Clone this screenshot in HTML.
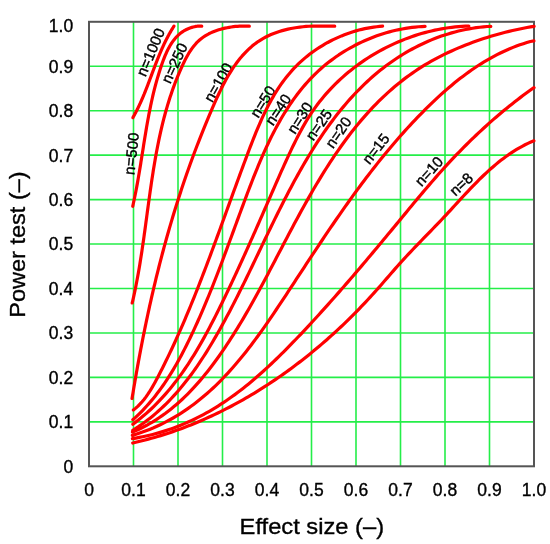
<!DOCTYPE html><html><head><meta charset="utf-8"><style>html,body{margin:0;padding:0;background:#fff;overflow:hidden}svg{display:block}</style></head><body><svg width="550" height="544" viewBox="0 0 550 544"><rect width="550" height="544" fill="#fff"/><g stroke="#24ee48" stroke-width="1.6"><line x1="133.50" y1="21.80" x2="133.50" y2="466.30"/><line x1="89.00" y1="421.85" x2="534.00" y2="421.85"/><line x1="178.00" y1="21.80" x2="178.00" y2="466.30"/><line x1="89.00" y1="377.40" x2="534.00" y2="377.40"/><line x1="222.50" y1="21.80" x2="222.50" y2="466.30"/><line x1="89.00" y1="332.95" x2="534.00" y2="332.95"/><line x1="267.00" y1="21.80" x2="267.00" y2="466.30"/><line x1="89.00" y1="288.50" x2="534.00" y2="288.50"/><line x1="311.50" y1="21.80" x2="311.50" y2="466.30"/><line x1="89.00" y1="244.05" x2="534.00" y2="244.05"/><line x1="356.00" y1="21.80" x2="356.00" y2="466.30"/><line x1="89.00" y1="199.60" x2="534.00" y2="199.60"/><line x1="400.50" y1="21.80" x2="400.50" y2="466.30"/><line x1="89.00" y1="155.15" x2="534.00" y2="155.15"/><line x1="445.00" y1="21.80" x2="445.00" y2="466.30"/><line x1="89.00" y1="110.70" x2="534.00" y2="110.70"/><line x1="489.50" y1="21.80" x2="489.50" y2="466.30"/><line x1="89.00" y1="66.25" x2="534.00" y2="66.25"/></g><rect x="89.00" y="21.80" width="445.00" height="444.50" fill="none" stroke="#555" stroke-width="2"/><g font-family="Liberation Sans, sans-serif" font-size="15.0" fill="#000" stroke="#000" stroke-width="0.4"><text transform="translate(150.4,52.1) rotate(-67.0)" text-anchor="middle" dominant-baseline="central">n=1000</text><text transform="translate(131.2,153.6) rotate(-83.5)" text-anchor="middle" dominant-baseline="central">n=500</text><text transform="translate(174.2,63.0) rotate(-65.0)" text-anchor="middle" dominant-baseline="central">n=250</text><text transform="translate(217.9,82.2) rotate(-60.0)" text-anchor="middle" dominant-baseline="central">n=100</text><text transform="translate(262.5,101.4) rotate(-58.0)" text-anchor="middle" dominant-baseline="central">n=50</text><text transform="translate(277.9,109.4) rotate(-56.0)" text-anchor="middle" dominant-baseline="central">n=40</text><text transform="translate(299.5,117.8) rotate(-57.0)" text-anchor="middle" dominant-baseline="central">n=30</text><text transform="translate(318.5,124.5) rotate(-55.0)" text-anchor="middle" dominant-baseline="central">n=25</text><text transform="translate(338.2,132.2) rotate(-55.0)" text-anchor="middle" dominant-baseline="central">n=20</text><text transform="translate(375.6,148.5) rotate(-52.0)" text-anchor="middle" dominant-baseline="central">n=15</text><text transform="translate(428.8,171.1) rotate(-48.0)" text-anchor="middle" dominant-baseline="central">n=10</text><text transform="translate(461.0,184.0) rotate(-43.0)" text-anchor="middle" dominant-baseline="central">n=8</text></g><g fill="none" stroke="#ff0000" stroke-width="3.2" stroke-linecap="round" stroke-linejoin="round"><path d="M132.86 117.68 L133.17 117.13 L133.48 116.58 L133.79 116.03 L134.10 115.47 L134.41 114.92 L134.71 114.36 L135.01 113.80 L135.31 113.25 L135.60 112.69 L135.89 112.13 L136.19 111.56 L136.47 111.00 L136.76 110.44 L137.05 109.87 L137.33 109.31 L137.61 108.74 L137.89 108.18 L138.16 107.61 L138.44 107.04 L138.71 106.47 L138.98 105.90 L139.25 105.33 L139.52 104.76 L139.78 104.19 L140.05 103.61 L140.31 103.04 L140.57 102.47 L140.83 101.89 L141.08 101.31 L141.34 100.74 L141.59 100.16 L141.85 99.58 L142.10 99.00 L142.35 98.42 L142.59 97.84 L142.84 97.26 L143.09 96.68 L143.33 96.10 L143.57 95.52 L143.81 94.94 L144.06 94.35 L144.29 93.77 L144.53 93.19 L144.77 92.60 L145.01 92.02 L145.24 91.43 L145.48 90.84 L145.71 90.26 L145.94 89.67 L146.17 89.08 L146.40 88.50 L146.63 87.91 L146.86 87.32 L147.09 86.73 L147.32 86.14 L147.55 85.55 L147.77 84.97 L148.00 84.38 L148.22 83.79 L148.45 83.20 L148.67 82.61 L148.90 82.02 L149.12 81.42 L149.34 80.83 L149.57 80.24 L149.79 79.65 L150.01 79.06 L150.23 78.47 L150.45 77.88 L150.68 77.29 L150.90 76.69 L151.12 76.10 L151.34 75.51 L151.56 74.92 L151.78 74.33 L152.00 73.74 L152.22 73.15 L152.45 72.55 L152.67 71.96 L152.89 71.37 L153.11 70.78 L153.33 70.19 L153.56 69.60 L153.78 69.01 L154.00 68.42 L154.23 67.82 L154.45 67.23 L154.68 66.64 L154.90 66.05 L155.13 65.46 L155.35 64.87 L155.58 64.28 L155.81 63.70 L156.03 63.11 L156.26 62.52 L156.49 61.93 L156.72 61.34 L156.95 60.75 L157.19 60.17 L157.42 59.58 L157.65 58.99 L157.89 58.41 L158.12 57.82 L158.36 57.24 L158.60 56.65 L158.84 56.07 L159.08 55.48 L159.32 54.90 L159.56 54.32 L159.80 53.74 L160.05 53.15 L160.30 52.57 L160.54 51.99 L160.79 51.41 L161.04 50.83 L161.29 50.25 L161.55 49.68 L161.80 49.10 L162.06 48.52 L162.32 47.94 L162.58 47.37 L162.84 46.79 L163.10 46.22 L163.37 45.65 L163.63 45.07 L163.90 44.50 L164.17 43.93 L164.44 43.36 L164.72 42.79 L164.99 42.22 L165.27 41.65 L165.55 41.09 L165.83 40.52 L166.11 39.96 L166.40 39.39 L166.69 38.83 L166.98 38.26 L167.27 37.70 L167.57 37.14 L167.86 36.58 L168.16 36.02 L168.46 35.47 L168.77 34.91 L169.07 34.35 L169.38 33.80 L169.69 33.25 L170.01 32.69 L170.32 32.14 L170.64 31.59 L170.97 31.04 L171.29 30.49 L171.62 29.95 L171.95 29.40 L172.28 28.86 L172.61 28.31 L172.95 27.77 L173.29 27.23 L173.64 26.69 L173.98 26.16"/><path d="M132.72 206.28 L133.01 205.02 L133.29 203.77 L133.56 202.52 L133.84 201.26 L134.10 200.01 L134.37 198.76 L134.63 197.50 L134.89 196.24 L135.14 194.99 L135.40 193.73 L135.65 192.47 L135.89 191.21 L136.14 189.95 L136.38 188.69 L136.61 187.43 L136.85 186.17 L137.08 184.91 L137.31 183.64 L137.54 182.38 L137.76 181.12 L137.99 179.85 L138.21 178.59 L138.43 177.33 L138.65 176.06 L138.86 174.80 L139.08 173.53 L139.29 172.26 L139.50 171.00 L139.71 169.73 L139.92 168.46 L140.13 167.20 L140.33 165.93 L140.54 164.66 L140.74 163.39 L140.94 162.12 L141.15 160.85 L141.35 159.59 L141.55 158.32 L141.75 157.05 L141.95 155.78 L142.15 154.51 L142.35 153.24 L142.55 151.97 L142.76 150.70 L142.96 149.43 L143.16 148.16 L143.36 146.89 L143.56 145.62 L143.76 144.35 L143.96 143.08 L144.17 141.81 L144.37 140.54 L144.58 139.27 L144.78 138.00 L144.99 136.73 L145.20 135.46 L145.41 134.19 L145.62 132.92 L145.83 131.65 L146.04 130.38 L146.26 129.11 L146.48 127.84 L146.69 126.57 L146.92 125.31 L147.14 124.04 L147.36 122.77 L147.59 121.50 L147.82 120.24 L148.05 118.97 L148.29 117.70 L148.52 116.43 L148.76 115.17 L149.00 113.90 L149.25 112.64 L149.50 111.37 L149.75 110.11 L150.00 108.84 L150.26 107.58 L150.52 106.32 L150.78 105.05 L151.05 103.79 L151.32 102.53 L151.60 101.27 L151.88 100.01 L152.16 98.75 L152.45 97.49 L152.74 96.23 L153.03 94.97 L153.33 93.71 L153.63 92.46 L153.94 91.20 L154.26 89.95 L154.57 88.69 L154.89 87.44 L155.22 86.18 L155.55 84.93 L155.89 83.68 L156.23 82.43 L156.58 81.18 L156.93 79.93 L157.29 78.68 L157.65 77.43 L158.02 76.18 L158.39 74.93 L158.77 73.69 L159.16 72.44 L159.55 71.20 L159.95 69.96 L160.35 68.72 L160.76 67.47 L161.18 66.23 L161.60 65.00 L162.03 63.76 L162.47 62.52 L162.92 61.29 L163.37 60.07 L163.84 58.85 L164.31 57.63 L164.80 56.42 L165.30 55.23 L165.81 54.04 L166.34 52.86 L166.87 51.70 L167.43 50.54 L168.00 49.40 L168.58 48.28 L169.19 47.17 L169.81 46.08 L170.45 45.00 L171.11 43.94 L171.78 42.91 L172.48 41.89 L173.20 40.89 L173.94 39.92 L174.71 38.97 L175.50 38.05 L176.31 37.15 L177.15 36.27 L178.01 35.43 L178.90 34.61 L179.82 33.82 L180.76 33.07 L181.73 32.34 L182.74 31.65 L183.77 30.99 L184.83 30.36 L185.92 29.77 L187.05 29.22 L188.21 28.70 L189.40 28.22 L190.63 27.78 L191.89 27.39 L193.19 27.03 L194.52 26.71 L195.89 26.44 L197.30 26.21 L198.75 26.16 L200.23 26.16 L201.76 26.16"/><path d="M132.20 302.99 L132.67 301.01 L133.12 299.03 L133.57 297.04 L134.00 295.05 L134.43 293.06 L134.86 291.06 L135.27 289.07 L135.68 287.06 L136.08 285.06 L136.47 283.06 L136.85 281.05 L137.23 279.04 L137.61 277.02 L137.97 275.01 L138.33 272.99 L138.69 270.97 L139.04 268.95 L139.38 266.93 L139.72 264.90 L140.05 262.88 L140.38 260.85 L140.70 258.82 L141.02 256.78 L141.34 254.75 L141.65 252.72 L141.96 250.68 L142.26 248.64 L142.56 246.60 L142.86 244.56 L143.16 242.52 L143.45 240.48 L143.74 238.43 L144.03 236.39 L144.31 234.34 L144.60 232.30 L144.88 230.25 L145.16 228.20 L145.44 226.15 L145.72 224.10 L145.99 222.05 L146.27 220.00 L146.55 217.95 L146.82 215.90 L147.10 213.85 L147.37 211.80 L147.65 209.75 L147.93 207.70 L148.21 205.65 L148.49 203.60 L148.77 201.55 L149.05 199.50 L149.33 197.45 L149.62 195.40 L149.91 193.35 L150.20 191.30 L150.49 189.25 L150.78 187.20 L151.08 185.16 L151.38 183.11 L151.69 181.06 L151.99 179.02 L152.31 176.98 L152.62 174.93 L152.94 172.89 L153.26 170.85 L153.59 168.81 L153.93 166.78 L154.27 164.74 L154.61 162.71 L154.96 160.67 L155.31 158.64 L155.67 156.61 L156.04 154.59 L156.41 152.56 L156.79 150.54 L157.18 148.51 L157.57 146.49 L157.97 144.48 L158.37 142.46 L158.79 140.45 L159.21 138.43 L159.64 136.42 L160.08 134.42 L160.52 132.41 L160.98 130.41 L161.44 128.41 L161.91 126.42 L162.39 124.42 L162.88 122.43 L163.38 120.44 L163.89 118.46 L164.41 116.48 L164.94 114.50 L165.48 112.52 L166.04 110.55 L166.60 108.58 L167.17 106.61 L167.75 104.65 L168.35 102.69 L168.96 100.74 L169.57 98.79 L170.20 96.84 L170.85 94.89 L171.50 92.95 L172.17 91.02 L172.85 89.08 L173.54 87.15 L174.25 85.23 L174.97 83.31 L175.71 81.39 L176.45 79.48 L177.22 77.57 L177.99 75.67 L178.78 73.77 L179.59 71.88 L180.41 69.99 L181.25 68.10 L182.10 66.22 L182.96 64.35 L183.85 62.49 L184.76 60.63 L185.70 58.80 L186.67 56.99 L187.66 55.20 L188.70 53.44 L189.78 51.71 L190.89 50.02 L192.06 48.36 L193.27 46.75 L194.54 45.19 L195.86 43.68 L197.24 42.22 L198.69 40.82 L200.20 39.48 L201.78 38.21 L203.44 37.00 L205.16 35.87 L206.95 34.80 L208.80 33.81 L210.70 32.88 L212.65 32.01 L214.63 31.21 L216.66 30.48 L218.71 29.80 L220.78 29.19 L222.87 28.63 L224.97 28.14 L227.09 27.70 L229.20 27.31 L231.31 26.98 L233.42 26.69 L235.51 26.46 L237.58 26.28 L239.63 26.16 L241.65 26.16 L243.64 26.16 L245.58 26.16 L247.49 26.16 L249.34 26.16"/><path d="M132.05 398.49 L132.53 395.57 L133.02 392.65 L133.50 389.74 L134.00 386.82 L134.49 383.92 L134.99 381.01 L135.49 378.11 L136.00 375.21 L136.51 372.31 L137.03 369.42 L137.55 366.53 L138.07 363.64 L138.60 360.76 L139.13 357.87 L139.67 355.00 L140.21 352.12 L140.76 349.25 L141.31 346.38 L141.87 343.51 L142.43 340.64 L142.99 337.78 L143.56 334.92 L144.14 332.06 L144.72 329.21 L145.30 326.36 L145.90 323.51 L146.49 320.66 L147.09 317.82 L147.70 314.97 L148.31 312.13 L148.93 309.30 L149.55 306.46 L150.18 303.63 L150.82 300.80 L151.46 297.97 L152.10 295.14 L152.75 292.32 L153.41 289.50 L154.08 286.68 L154.75 283.86 L155.42 281.05 L156.10 278.23 L156.79 275.42 L157.49 272.61 L158.19 269.80 L158.90 267.00 L159.61 264.20 L160.33 261.39 L161.06 258.60 L161.79 255.80 L162.53 253.00 L163.28 250.21 L164.03 247.41 L164.79 244.62 L165.56 241.83 L166.34 239.05 L167.12 236.26 L167.91 233.48 L168.70 230.69 L169.51 227.91 L170.32 225.13 L171.14 222.36 L171.96 219.58 L172.80 216.80 L173.64 214.03 L174.49 211.26 L175.34 208.49 L176.21 205.72 L177.08 202.95 L177.96 200.18 L178.85 197.41 L179.74 194.65 L180.65 191.88 L181.56 189.12 L182.48 186.36 L183.41 183.60 L184.34 180.84 L185.29 178.08 L186.24 175.32 L187.20 172.57 L188.18 169.81 L189.16 167.06 L190.14 164.30 L191.14 161.55 L192.15 158.80 L193.16 156.05 L194.18 153.29 L195.22 150.54 L196.26 147.80 L197.31 145.05 L198.37 142.30 L199.44 139.55 L200.52 136.80 L201.61 134.06 L202.70 131.31 L203.81 128.57 L204.93 125.82 L206.05 123.08 L207.19 120.33 L208.34 117.59 L209.49 114.85 L210.66 112.10 L211.83 109.36 L213.02 106.62 L214.22 103.88 L215.43 101.15 L216.66 98.43 L217.91 95.72 L219.18 93.02 L220.47 90.34 L221.78 87.68 L223.12 85.05 L224.49 82.44 L225.89 79.85 L227.32 77.30 L228.79 74.78 L230.29 72.30 L231.83 69.86 L233.41 67.46 L235.04 65.10 L236.71 62.79 L238.42 60.53 L240.18 58.33 L241.99 56.18 L243.86 54.09 L245.78 52.06 L247.75 50.09 L249.79 48.19 L251.88 46.36 L254.04 44.60 L256.26 42.91 L258.54 41.30 L260.90 39.78 L263.32 38.33 L265.82 36.97 L268.39 35.70 L271.03 34.52 L273.73 33.42 L276.50 32.41 L279.31 31.47 L282.17 30.62 L285.07 29.85 L288.01 29.15 L290.97 28.53 L293.95 27.98 L296.95 27.50 L299.96 27.09 L302.97 26.74 L305.98 26.46 L308.98 26.24 L311.97 26.16 L314.93 26.16 L317.87 26.16 L320.78 26.16 L323.65 26.16 L326.49 26.16 L329.28 26.16 L332.03 26.16 L334.72 26.16"/><path d="M133.40 410.06 L135.77 408.12 L138.01 406.08 L140.12 403.95 L142.13 401.74 L144.03 399.46 L145.83 397.10 L147.55 394.69 L149.20 392.23 L150.78 389.71 L152.30 387.16 L153.78 384.57 L155.22 381.95 L156.64 379.32 L158.03 376.66 L159.41 374.00 L160.78 371.33 L162.14 368.66 L163.49 365.97 L164.83 363.28 L166.16 360.58 L167.48 357.87 L168.79 355.15 L170.09 352.43 L171.38 349.70 L172.66 346.96 L173.93 344.22 L175.20 341.47 L176.45 338.71 L177.69 335.95 L178.93 333.18 L180.16 330.41 L181.38 327.64 L182.59 324.85 L183.79 322.07 L184.98 319.28 L186.17 316.48 L187.35 313.68 L188.52 310.88 L189.69 308.07 L190.85 305.26 L192.00 302.45 L193.14 299.63 L194.28 296.82 L195.41 293.99 L196.54 291.17 L197.66 288.35 L198.77 285.52 L199.88 282.69 L200.98 279.86 L202.08 277.03 L203.17 274.20 L204.25 271.37 L205.34 268.54 L206.41 265.70 L207.48 262.87 L208.55 260.04 L209.62 257.21 L210.68 254.37 L211.73 251.54 L212.78 248.72 L213.83 245.89 L214.88 243.06 L215.92 240.24 L216.96 237.41 L217.99 234.59 L219.03 231.77 L220.06 228.95 L221.09 226.13 L222.12 223.32 L223.14 220.50 L224.17 217.68 L225.19 214.87 L226.22 212.05 L227.24 209.23 L228.27 206.42 L229.29 203.60 L230.31 200.78 L231.34 197.96 L232.37 195.15 L233.39 192.33 L234.42 189.50 L235.45 186.68 L236.49 183.86 L237.52 181.03 L238.56 178.21 L239.60 175.38 L240.65 172.54 L241.69 169.71 L242.75 166.87 L243.80 164.03 L244.86 161.19 L245.93 158.35 L247.00 155.50 L248.07 152.65 L249.15 149.80 L250.24 146.94 L251.34 144.09 L252.45 141.24 L253.57 138.39 L254.70 135.55 L255.86 132.72 L257.02 129.89 L258.21 127.08 L259.42 124.27 L260.65 121.48 L261.90 118.70 L263.17 115.93 L264.48 113.18 L265.81 110.45 L267.17 107.74 L268.56 105.06 L269.98 102.39 L271.44 99.75 L272.93 97.13 L274.45 94.54 L276.02 91.97 L277.63 89.44 L279.27 86.94 L280.96 84.47 L282.70 82.03 L284.48 79.63 L286.31 77.27 L288.18 74.94 L290.11 72.66 L292.09 70.41 L294.12 68.21 L296.21 66.05 L298.35 63.94 L300.55 61.87 L302.80 59.86 L305.10 57.88 L307.45 55.96 L309.84 54.09 L312.29 52.27 L314.77 50.50 L317.29 48.79 L319.86 47.12 L322.46 45.52 L325.10 43.97 L327.77 42.47 L330.48 41.04 L333.21 39.66 L335.98 38.34 L338.77 37.09 L341.58 35.89 L344.42 34.76 L347.28 33.69 L350.16 32.69 L353.06 31.75 L355.97 30.88 L358.90 30.07 L361.84 29.34 L364.78 28.67 L367.74 28.08 L370.71 27.55 L373.67 27.10 L376.64 26.72 L379.62 26.42 L382.59 26.19"/><path d="M132.84 419.77 L135.27 417.58 L137.66 415.35 L139.99 413.09 L142.28 410.78 L144.53 408.43 L146.73 406.04 L148.88 403.62 L151.00 401.16 L153.07 398.67 L155.10 396.14 L157.09 393.59 L159.04 391.00 L160.96 388.38 L162.83 385.74 L164.68 383.07 L166.49 380.37 L168.26 377.65 L170.00 374.90 L171.72 372.14 L173.40 369.35 L175.05 366.55 L176.67 363.72 L178.27 360.88 L179.84 358.03 L181.39 355.16 L182.91 352.27 L184.41 349.38 L185.89 346.47 L187.35 343.55 L188.78 340.63 L190.20 337.70 L191.60 334.76 L192.99 331.82 L194.36 328.88 L195.71 325.93 L197.05 322.98 L198.37 320.02 L199.69 317.06 L200.98 314.10 L202.27 311.13 L203.54 308.16 L204.80 305.19 L206.05 302.21 L207.29 299.23 L208.52 296.25 L209.73 293.26 L210.94 290.27 L212.14 287.28 L213.33 284.28 L214.51 281.28 L215.69 278.28 L216.86 275.27 L218.02 272.26 L219.17 269.25 L220.32 266.24 L221.47 263.22 L222.61 260.20 L223.75 257.17 L224.88 254.15 L226.01 251.12 L227.13 248.08 L228.26 245.05 L229.38 242.01 L230.50 238.97 L231.62 235.93 L232.74 232.88 L233.86 229.83 L234.98 226.78 L236.11 223.73 L237.23 220.67 L238.36 217.61 L239.48 214.55 L240.62 211.49 L241.75 208.42 L242.89 205.36 L244.03 202.29 L245.18 199.21 L246.34 196.14 L247.50 193.06 L248.66 189.99 L249.84 186.91 L251.03 183.84 L252.22 180.77 L253.43 177.70 L254.64 174.64 L255.87 171.58 L257.12 168.53 L258.38 165.48 L259.65 162.45 L260.94 159.42 L262.25 156.40 L263.57 153.40 L264.92 150.41 L266.28 147.43 L267.67 144.46 L269.07 141.51 L270.50 138.57 L271.95 135.66 L273.43 132.75 L274.93 129.87 L276.46 127.01 L278.01 124.17 L279.59 121.35 L281.20 118.55 L282.84 115.77 L284.51 113.02 L286.22 110.30 L287.95 107.60 L289.72 104.93 L291.52 102.29 L293.36 99.67 L295.23 97.09 L297.14 94.54 L299.09 92.01 L301.07 89.53 L303.10 87.07 L305.16 84.65 L307.27 82.27 L309.42 79.92 L311.61 77.61 L313.85 75.34 L316.13 73.11 L318.45 70.92 L320.83 68.77 L323.25 66.66 L325.71 64.60 L328.23 62.58 L330.79 60.61 L333.39 58.68 L336.04 56.80 L338.73 54.96 L341.46 53.18 L344.23 51.44 L347.03 49.75 L349.87 48.12 L352.75 46.54 L355.65 45.00 L358.59 43.53 L361.56 42.10 L364.56 40.74 L367.58 39.43 L370.63 38.17 L373.71 36.97 L376.80 35.84 L379.92 34.76 L383.06 33.74 L386.22 32.78 L389.40 31.89 L392.59 31.06 L395.80 30.29 L399.01 29.59 L402.25 28.95 L405.49 28.38 L408.74 27.87 L411.99 27.44 L415.26 27.07 L418.53 26.77 L421.80 26.55 L425.07 26.39"/><path d="M132.85 424.20 L135.65 422.11 L138.39 419.99 L141.09 417.82 L143.75 415.60 L146.35 413.35 L148.91 411.05 L151.43 408.71 L153.90 406.33 L156.34 403.92 L158.73 401.46 L161.07 398.97 L163.38 396.45 L165.66 393.89 L167.89 391.30 L170.08 388.67 L172.25 386.02 L174.37 383.33 L176.46 380.62 L178.52 377.87 L180.55 375.10 L182.54 372.31 L184.50 369.49 L186.44 366.64 L188.34 363.77 L190.22 360.88 L192.07 357.97 L193.90 355.04 L195.70 352.09 L197.47 349.12 L199.23 346.14 L200.96 343.14 L202.67 340.12 L204.36 337.10 L206.03 334.05 L207.68 331.00 L209.31 327.94 L210.93 324.86 L212.53 321.78 L214.12 318.69 L215.69 315.60 L217.25 312.50 L218.80 309.39 L220.34 306.28 L221.87 303.17 L223.38 300.06 L224.89 296.94 L226.39 293.83 L227.88 290.71 L229.37 287.60 L230.85 284.48 L232.32 281.36 L233.78 278.24 L235.24 275.12 L236.69 272.00 L238.13 268.88 L239.57 265.76 L241.00 262.63 L242.43 259.50 L243.85 256.38 L245.27 253.25 L246.68 250.11 L248.09 246.98 L249.49 243.85 L250.89 240.71 L252.29 237.57 L253.68 234.43 L255.08 231.29 L256.47 228.15 L257.85 225.00 L259.24 221.85 L260.62 218.70 L262.00 215.55 L263.38 212.39 L264.76 209.24 L266.14 206.08 L267.52 202.91 L268.89 199.75 L270.27 196.58 L271.65 193.41 L273.03 190.24 L274.42 187.07 L275.80 183.90 L277.20 180.73 L278.59 177.56 L279.99 174.39 L281.40 171.22 L282.82 168.06 L284.24 164.90 L285.68 161.74 L287.12 158.59 L288.58 155.45 L290.04 152.30 L291.52 149.17 L293.02 146.05 L294.54 142.93 L296.08 139.84 L297.64 136.75 L299.24 133.69 L300.86 130.65 L302.52 127.63 L304.22 124.63 L305.96 121.67 L307.74 118.73 L309.57 115.82 L311.45 112.95 L313.38 110.11 L315.36 107.31 L317.40 104.55 L319.48 101.83 L321.62 99.14 L323.81 96.50 L326.05 93.89 L328.34 91.33 L330.67 88.81 L333.06 86.32 L335.48 83.88 L337.96 81.48 L340.47 79.13 L343.03 76.82 L345.64 74.55 L348.28 72.32 L350.96 70.14 L353.69 68.00 L356.45 65.91 L359.25 63.87 L362.09 61.87 L364.96 59.92 L367.87 58.02 L370.81 56.16 L373.78 54.36 L376.78 52.60 L379.82 50.89 L382.88 49.24 L385.97 47.64 L389.08 46.08 L392.23 44.58 L395.39 43.14 L398.58 41.75 L401.79 40.41 L405.02 39.13 L408.28 37.90 L411.55 36.73 L414.83 35.62 L418.14 34.56 L421.46 33.56 L424.79 32.62 L428.13 31.75 L431.49 30.93 L434.86 30.17 L438.24 29.47 L441.62 28.83 L445.01 28.26 L448.41 27.75 L451.82 27.31 L455.22 26.92 L458.63 26.61 L462.05 26.36 L465.46 26.17 L468.87 26.16"/><path d="M132.79 430.28 L135.85 428.34 L138.85 426.36 L141.80 424.31 L144.69 422.22 L147.54 420.08 L150.34 417.89 L153.08 415.65 L155.78 413.36 L158.44 411.03 L161.05 408.66 L163.61 406.24 L166.13 403.79 L168.61 401.29 L171.04 398.76 L173.44 396.19 L175.79 393.58 L178.11 390.94 L180.39 388.26 L182.63 385.56 L184.84 382.82 L187.01 380.05 L189.15 377.26 L191.26 374.43 L193.34 371.58 L195.38 368.71 L197.39 365.82 L199.38 362.90 L201.34 359.96 L203.27 357.00 L205.18 354.03 L207.06 351.04 L208.92 348.03 L210.75 345.01 L212.57 341.97 L214.36 338.93 L216.13 335.87 L217.89 332.81 L219.63 329.73 L221.35 326.65 L223.05 323.56 L224.74 320.46 L226.41 317.36 L228.07 314.25 L229.72 311.14 L231.35 308.01 L232.97 304.88 L234.58 301.75 L236.18 298.61 L237.77 295.47 L239.35 292.32 L240.92 289.16 L242.49 286.01 L244.05 282.84 L245.60 279.68 L247.14 276.51 L248.68 273.34 L250.22 270.16 L251.75 266.98 L253.28 263.80 L254.80 260.62 L256.33 257.43 L257.86 254.25 L259.38 251.06 L260.91 247.87 L262.43 244.68 L263.96 241.49 L265.49 238.30 L267.03 235.10 L268.57 231.91 L270.11 228.72 L271.66 225.53 L273.22 222.34 L274.78 219.16 L276.35 215.97 L277.93 212.79 L279.52 209.60 L281.12 206.42 L282.73 203.25 L284.35 200.07 L285.98 196.90 L287.63 193.73 L289.28 190.57 L290.96 187.41 L292.64 184.26 L294.34 181.11 L296.06 177.97 L297.79 174.85 L299.53 171.73 L301.30 168.62 L303.08 165.52 L304.88 162.43 L306.69 159.36 L308.53 156.30 L310.38 153.26 L312.26 150.22 L314.15 147.21 L316.07 144.21 L318.00 141.23 L319.96 138.27 L321.94 135.33 L323.94 132.40 L325.97 129.50 L328.02 126.62 L330.09 123.76 L332.19 120.93 L334.32 118.12 L336.47 115.33 L338.65 112.57 L340.85 109.83 L343.08 107.13 L345.34 104.45 L347.63 101.80 L349.95 99.18 L352.29 96.59 L354.67 94.03 L357.08 91.50 L359.51 89.01 L361.98 86.55 L364.48 84.12 L367.02 81.73 L369.59 79.38 L372.19 77.06 L374.82 74.78 L377.49 72.54 L380.20 70.34 L382.94 68.18 L385.71 66.06 L388.52 63.98 L391.37 61.95 L394.26 59.96 L397.18 58.01 L400.13 56.11 L403.12 54.26 L406.14 52.45 L409.19 50.70 L412.27 48.99 L415.39 47.34 L418.54 45.74 L421.72 44.20 L424.92 42.71 L428.16 41.27 L431.42 39.89 L434.72 38.57 L438.04 37.31 L441.39 36.11 L444.76 34.98 L448.16 33.90 L451.59 32.89 L455.04 31.94 L458.51 31.06 L462.01 30.25 L465.53 29.50 L469.07 28.82 L472.64 28.22 L476.22 27.68 L479.83 27.22 L483.46 26.83 L487.11 26.51 L490.77 26.38"/><path d="M132.50 432.08 L136.03 430.56 L139.49 428.97 L142.90 427.29 L146.25 425.53 L149.54 423.70 L152.78 421.80 L155.96 419.83 L159.08 417.78 L162.16 415.67 L165.18 413.50 L168.15 411.26 L171.08 408.96 L173.95 406.61 L176.78 404.20 L179.56 401.73 L182.29 399.21 L184.98 396.65 L187.63 394.03 L190.23 391.37 L192.80 388.67 L195.32 385.93 L197.80 383.14 L200.25 380.33 L202.66 377.47 L205.03 374.59 L207.37 371.67 L209.67 368.73 L211.95 365.76 L214.19 362.77 L216.39 359.76 L218.57 356.73 L220.72 353.68 L222.85 350.62 L224.94 347.54 L227.01 344.45 L229.06 341.35 L231.08 338.23 L233.08 335.11 L235.05 331.97 L237.01 328.82 L238.94 325.66 L240.86 322.49 L242.76 319.31 L244.64 316.12 L246.51 312.92 L248.36 309.71 L250.19 306.49 L252.01 303.26 L253.82 300.02 L255.62 296.78 L257.41 293.53 L259.19 290.27 L260.95 287.01 L262.72 283.73 L264.47 280.46 L266.22 277.17 L267.96 273.88 L269.70 270.59 L271.44 267.29 L273.17 263.98 L274.91 260.67 L276.64 257.36 L278.37 254.04 L280.11 250.72 L281.85 247.40 L283.59 244.07 L285.34 240.74 L287.09 237.41 L288.85 234.08 L290.61 230.75 L292.38 227.42 L294.16 224.09 L295.95 220.77 L297.74 217.44 L299.55 214.12 L301.36 210.81 L303.19 207.50 L305.02 204.20 L306.87 200.90 L308.73 197.62 L310.61 194.34 L312.50 191.07 L314.40 187.81 L316.32 184.56 L318.25 181.33 L320.20 178.11 L322.17 174.90 L324.15 171.70 L326.15 168.52 L328.17 165.36 L330.21 162.21 L332.27 159.09 L334.35 155.98 L336.45 152.89 L338.58 149.81 L340.72 146.76 L342.89 143.74 L345.08 140.73 L347.30 137.75 L349.54 134.79 L351.81 131.85 L354.10 128.95 L356.42 126.06 L358.76 123.21 L361.14 120.38 L363.54 117.59 L365.97 114.82 L368.43 112.08 L370.92 109.37 L373.45 106.70 L376.00 104.06 L378.59 101.45 L381.21 98.88 L383.86 96.34 L386.55 93.84 L389.27 91.37 L392.02 88.95 L394.82 86.56 L397.64 84.21 L400.51 81.90 L403.41 79.63 L406.36 77.40 L409.34 75.22 L412.36 73.08 L415.42 70.98 L418.52 68.93 L421.66 66.92 L424.84 64.96 L428.07 63.05 L431.33 61.18 L434.63 59.36 L437.96 57.59 L441.33 55.86 L444.73 54.17 L448.15 52.53 L451.61 50.94 L455.09 49.39 L458.59 47.89 L462.11 46.43 L465.65 45.01 L469.21 43.64 L472.78 42.31 L476.37 41.03 L479.97 39.79 L483.58 38.59 L487.20 37.44 L490.82 36.33 L494.45 35.26 L498.08 34.24 L501.71 33.26 L505.33 32.32 L508.96 31.42 L512.58 30.56 L516.19 29.75 L519.79 28.98 L523.38 28.24 L526.96 27.55 L530.52 26.91 L534.07 26.30"/><path d="M132.36 435.36 L136.02 434.25 L139.64 433.07 L143.20 431.83 L146.71 430.53 L150.18 429.16 L153.59 427.74 L156.95 426.25 L160.27 424.71 L163.54 423.11 L166.77 421.45 L169.95 419.74 L173.09 417.98 L176.18 416.16 L179.23 414.29 L182.24 412.37 L185.21 410.40 L188.14 408.38 L191.03 406.32 L193.88 404.20 L196.69 402.05 L199.47 399.85 L202.21 397.61 L204.92 395.32 L207.59 393.00 L210.23 390.63 L212.84 388.23 L215.42 385.79 L217.96 383.31 L220.48 380.80 L222.97 378.25 L225.42 375.67 L227.86 373.06 L230.26 370.42 L232.64 367.75 L235.00 365.05 L237.33 362.32 L239.64 359.56 L241.92 356.79 L244.19 353.98 L246.43 351.15 L248.66 348.31 L250.87 345.44 L253.05 342.55 L255.22 339.64 L257.38 336.71 L259.52 333.77 L261.64 330.81 L263.75 327.84 L265.85 324.85 L267.94 321.86 L270.01 318.85 L272.08 315.83 L274.13 312.80 L276.18 309.77 L278.22 306.72 L280.25 303.68 L282.27 300.62 L284.29 297.57 L286.31 294.51 L288.32 291.45 L290.33 288.39 L292.33 285.33 L294.34 282.28 L296.34 279.22 L298.35 276.17 L300.35 273.12 L302.35 270.07 L304.35 267.02 L306.35 263.97 L308.36 260.93 L310.36 257.89 L312.37 254.86 L314.38 251.83 L316.39 248.80 L318.40 245.77 L320.42 242.75 L322.44 239.74 L324.46 236.73 L326.49 233.72 L328.52 230.72 L330.56 227.72 L332.60 224.73 L334.64 221.75 L336.70 218.77 L338.75 215.80 L340.82 212.83 L342.89 209.87 L344.97 206.92 L347.06 203.97 L349.15 201.04 L351.26 198.11 L353.37 195.18 L355.49 192.27 L357.62 189.36 L359.76 186.47 L361.91 183.58 L364.07 180.70 L366.24 177.83 L368.42 174.96 L370.62 172.11 L372.82 169.27 L375.04 166.44 L377.27 163.62 L379.51 160.81 L381.77 158.01 L384.04 155.22 L386.32 152.44 L388.62 149.67 L390.94 146.92 L393.26 144.18 L395.61 141.45 L397.97 138.73 L400.34 136.02 L402.73 133.33 L405.14 130.65 L407.56 127.98 L410.01 125.33 L412.47 122.69 L414.95 120.06 L417.44 117.45 L419.96 114.86 L422.50 112.27 L425.05 109.71 L427.63 107.15 L430.22 104.62 L432.84 102.10 L435.47 99.61 L438.13 97.14 L440.82 94.69 L443.52 92.26 L446.25 89.87 L449.00 87.50 L451.78 85.16 L454.58 82.86 L457.40 80.59 L460.25 78.35 L463.13 76.15 L466.03 73.99 L468.96 71.87 L471.92 69.80 L474.91 67.76 L477.92 65.78 L480.96 63.84 L484.03 61.94 L487.14 60.10 L490.27 58.31 L493.43 56.58 L496.62 54.90 L499.85 53.27 L503.11 51.71 L506.39 50.20 L509.72 48.76 L513.07 47.38 L516.46 46.07 L519.89 44.82 L523.35 43.65 L526.84 42.54 L530.37 41.50 L533.93 40.91"/><path d="M132.43 438.63 L135.86 438.06 L139.27 437.44 L142.66 436.76 L146.04 436.04 L149.39 435.26 L152.73 434.43 L156.05 433.55 L159.35 432.61 L162.63 431.63 L165.89 430.60 L169.14 429.52 L172.36 428.39 L175.56 427.21 L178.74 425.99 L181.90 424.72 L185.03 423.40 L188.15 422.04 L191.24 420.63 L194.31 419.18 L197.36 417.68 L200.38 416.15 L203.39 414.57 L206.36 412.94 L209.32 411.28 L212.24 409.57 L215.15 407.83 L218.03 406.04 L220.89 404.22 L223.72 402.36 L226.53 400.47 L229.32 398.54 L232.09 396.57 L234.84 394.58 L237.57 392.55 L240.28 390.49 L242.96 388.40 L245.63 386.29 L248.28 384.14 L250.92 381.97 L253.53 379.77 L256.13 377.55 L258.71 375.31 L261.27 373.04 L263.82 370.75 L266.35 368.44 L268.87 366.11 L271.37 363.77 L273.86 361.40 L276.33 359.02 L278.80 356.62 L281.24 354.21 L283.68 351.79 L286.11 349.35 L288.52 346.91 L290.92 344.45 L293.31 341.98 L295.70 339.51 L298.07 337.02 L300.43 334.54 L302.79 332.04 L305.13 329.55 L307.47 327.04 L309.80 324.54 L312.13 322.03 L314.44 319.51 L316.75 316.99 L319.05 314.47 L321.34 311.94 L323.63 309.41 L325.91 306.88 L328.18 304.34 L330.45 301.80 L332.71 299.25 L334.97 296.70 L337.22 294.15 L339.46 291.59 L341.70 289.03 L343.94 286.47 L346.17 283.90 L348.39 281.33 L350.61 278.76 L352.83 276.18 L355.04 273.60 L357.24 271.02 L359.45 268.44 L361.65 265.85 L363.84 263.26 L366.04 260.66 L368.23 258.07 L370.42 255.47 L372.60 252.87 L374.78 250.27 L376.96 247.66 L379.14 245.05 L381.32 242.44 L383.49 239.83 L385.66 237.22 L387.83 234.60 L390.00 231.98 L392.17 229.36 L394.34 226.74 L396.51 224.12 L398.68 221.49 L400.84 218.87 L403.01 216.24 L405.18 213.61 L407.35 210.98 L409.52 208.35 L411.69 205.73 L413.87 203.10 L416.05 200.48 L418.24 197.86 L420.43 195.25 L422.63 192.64 L424.83 190.03 L427.04 187.44 L429.26 184.84 L431.49 182.26 L433.73 179.68 L435.98 177.11 L438.23 174.55 L440.50 172.01 L442.78 169.47 L445.08 166.94 L447.38 164.42 L449.70 161.92 L452.03 159.43 L454.38 156.95 L456.74 154.48 L459.11 152.03 L461.50 149.59 L463.89 147.16 L466.31 144.75 L468.73 142.35 L471.17 139.96 L473.63 137.59 L476.09 135.23 L478.57 132.89 L481.07 130.56 L483.58 128.25 L486.10 125.96 L488.64 123.68 L491.19 121.41 L493.75 119.17 L496.33 116.93 L498.93 114.72 L501.54 112.52 L504.16 110.34 L506.80 108.18 L509.45 106.03 L512.12 103.91 L514.80 101.80 L517.50 99.71 L520.21 97.63 L522.93 95.58 L525.67 93.55 L528.43 91.53 L531.20 89.54 L533.99 87.59"/><path d="M132.69 443.01 L135.82 442.29 L138.95 441.55 L142.07 440.78 L145.18 439.99 L148.29 439.16 L151.38 438.31 L154.47 437.44 L157.55 436.53 L160.62 435.60 L163.68 434.65 L166.74 433.66 L169.79 432.66 L172.82 431.62 L175.85 430.57 L178.87 429.48 L181.88 428.38 L184.89 427.24 L187.88 426.09 L190.87 424.91 L193.84 423.70 L196.81 422.48 L199.76 421.22 L202.71 419.95 L205.65 418.65 L208.58 417.33 L211.49 415.99 L214.40 414.62 L217.30 413.24 L220.19 411.83 L223.07 410.40 L225.94 408.94 L228.79 407.47 L231.64 405.97 L234.48 404.46 L237.31 402.92 L240.12 401.36 L242.93 399.79 L245.72 398.19 L248.51 396.57 L251.28 394.94 L254.04 393.28 L256.79 391.60 L259.53 389.91 L262.26 388.20 L264.98 386.47 L267.68 384.72 L270.38 382.95 L273.06 381.16 L275.73 379.36 L278.39 377.54 L281.04 375.70 L283.67 373.85 L286.29 371.97 L288.90 370.09 L291.50 368.18 L294.09 366.26 L296.66 364.32 L299.22 362.37 L301.77 360.40 L304.30 358.42 L306.83 356.42 L309.34 354.41 L311.83 352.38 L314.32 350.34 L316.79 348.28 L319.25 346.21 L321.69 344.13 L324.12 342.03 L326.54 339.92 L328.94 337.80 L331.33 335.66 L333.71 333.51 L336.07 331.35 L338.42 329.17 L340.75 326.99 L343.08 324.79 L345.38 322.57 L347.68 320.35 L349.96 318.11 L352.23 315.86 L354.49 313.60 L356.74 311.32 L358.97 309.03 L361.19 306.73 L363.40 304.41 L365.60 302.09 L367.78 299.75 L369.96 297.39 L372.12 295.02 L374.28 292.65 L376.42 290.25 L378.55 287.85 L380.67 285.43 L382.79 283.00 L384.90 280.57 L387.01 278.13 L389.11 275.70 L391.22 273.26 L393.34 270.83 L395.46 268.41 L397.59 266.00 L399.73 263.60 L401.88 261.21 L404.05 258.85 L406.23 256.49 L408.41 254.15 L410.61 251.81 L412.82 249.49 L415.03 247.17 L417.25 244.86 L419.48 242.56 L421.70 240.25 L423.94 237.95 L426.17 235.66 L428.40 233.36 L430.64 231.06 L432.87 228.75 L435.11 226.44 L437.33 224.13 L439.56 221.81 L441.78 219.48 L443.99 217.14 L446.20 214.79 L448.39 212.42 L450.59 210.05 L452.78 207.68 L454.97 205.29 L457.15 202.91 L459.34 200.53 L461.54 198.15 L463.73 195.78 L465.94 193.41 L468.15 191.05 L470.37 188.71 L472.60 186.38 L474.85 184.06 L477.11 181.77 L479.39 179.49 L481.68 177.24 L484.00 175.02 L486.33 172.82 L488.69 170.66 L491.07 168.52 L493.48 166.42 L495.92 164.36 L498.39 162.34 L500.89 160.36 L503.42 158.42 L505.99 156.53 L508.59 154.68 L511.23 152.89 L513.91 151.15 L516.63 149.47 L519.40 147.84 L522.21 146.28 L525.06 144.77 L527.96 143.33 L530.92 141.96 L533.92 140.79"/></g><g font-family="Liberation Sans, sans-serif" font-size="17.5" fill="#000" stroke="#000" stroke-width="0.35"><text x="73.2" y="466.70" text-anchor="end" dominant-baseline="central">0</text><text x="89.00" y="495.8" text-anchor="middle">0</text><text x="73.2" y="422.25" text-anchor="end" dominant-baseline="central">0.1</text><text x="133.50" y="495.8" text-anchor="middle">0.1</text><text x="73.2" y="377.80" text-anchor="end" dominant-baseline="central">0.2</text><text x="178.00" y="495.8" text-anchor="middle">0.2</text><text x="73.2" y="333.35" text-anchor="end" dominant-baseline="central">0.3</text><text x="222.50" y="495.8" text-anchor="middle">0.3</text><text x="73.2" y="288.90" text-anchor="end" dominant-baseline="central">0.4</text><text x="267.00" y="495.8" text-anchor="middle">0.4</text><text x="73.2" y="244.45" text-anchor="end" dominant-baseline="central">0.5</text><text x="311.50" y="495.8" text-anchor="middle">0.5</text><text x="73.2" y="200.00" text-anchor="end" dominant-baseline="central">0.6</text><text x="356.00" y="495.8" text-anchor="middle">0.6</text><text x="73.2" y="155.55" text-anchor="end" dominant-baseline="central">0.7</text><text x="400.50" y="495.8" text-anchor="middle">0.7</text><text x="73.2" y="111.10" text-anchor="end" dominant-baseline="central">0.8</text><text x="445.00" y="495.8" text-anchor="middle">0.8</text><text x="73.2" y="66.65" text-anchor="end" dominant-baseline="central">0.9</text><text x="489.50" y="495.8" text-anchor="middle">0.9</text><text x="73.2" y="26.20" text-anchor="end" dominant-baseline="central">1.0</text><text x="534.00" y="495.8" text-anchor="middle">1.0</text></g><text x="239.6" y="534.3" textLength="144.5" lengthAdjust="spacingAndGlyphs" font-family="Liberation Sans, sans-serif" font-size="22" stroke="#000" stroke-width="0.35">Effect size (–)</text><text transform="translate(25.2,317.8) rotate(-90)" textLength="146.5" lengthAdjust="spacingAndGlyphs" font-family="Liberation Sans, sans-serif" font-size="22" stroke="#000" stroke-width="0.35">Power test (–)</text></svg></body></html>
